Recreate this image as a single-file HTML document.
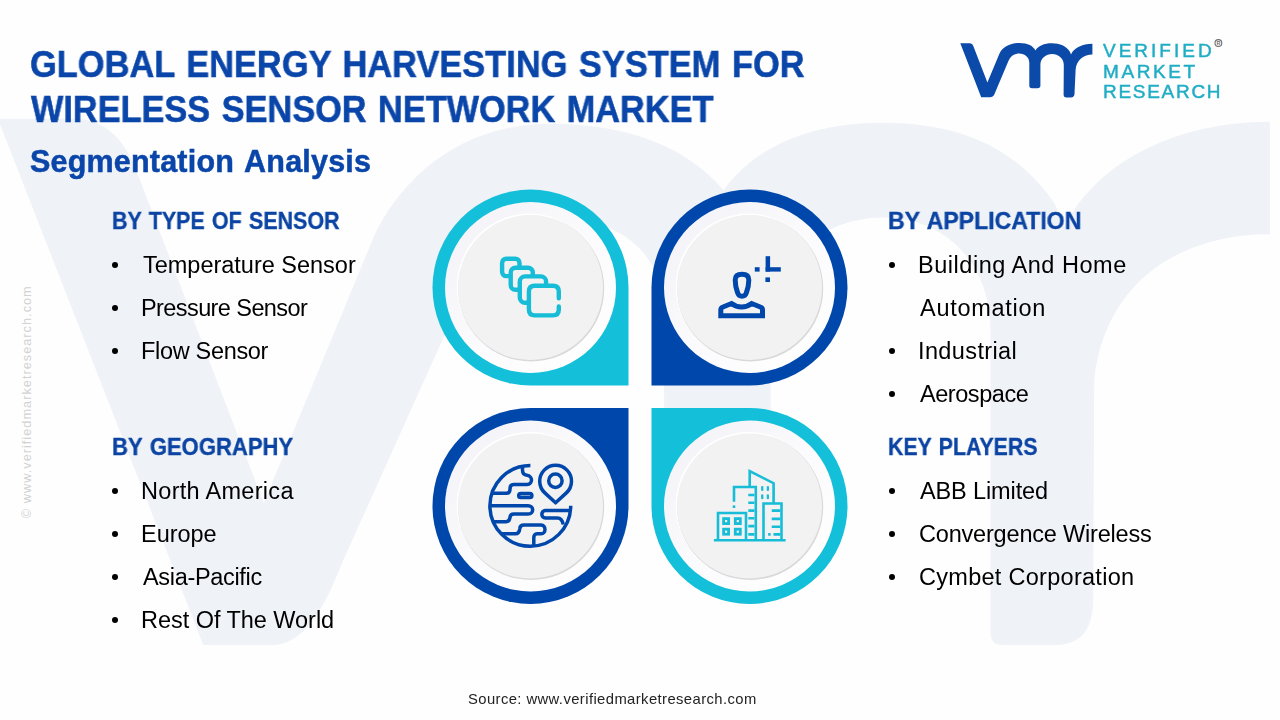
<!DOCTYPE html>
<html><head><meta charset="utf-8">
<style>
html,body{margin:0;padding:0;}
body{width:1280px;height:720px;position:relative;overflow:hidden;background:#fefefe;font-family:"Liberation Sans",sans-serif;}
.t{position:absolute;white-space:nowrap;line-height:1;will-change:transform;}
.b{position:absolute;width:6px;height:6px;border-radius:50%;background:#000;}
svg{position:absolute;left:0;top:0;}
</style></head>
<body>
<svg width="1280" height="720" viewBox="0 0 1280 720">
  <defs>
    <path id="logo" d="M960.3 43.3 L970 43.3 Q972.5 43.5 973.3 46 L987.4 82.4 L999.5 53.5 C1002 47.5 1010 43 1019.5 43 C1028 43 1033 46 1035.5 50.4 C1038 46 1044 43.3 1052 43.3 C1060 43.3 1066 46 1070 52 L1071 54.4 C1074 48 1082 43.8 1092.4 43.8 L1092.4 54.4 C1084 54.4 1076 60 1075.6 70 L1074.5 94 Q1074.2 97.4 1071 97.4 L1066 97.4 Q1063.6 97.4 1063.6 95 L1063.8 65 C1063.8 58 1058 54 1052.2 54 C1046 54 1040.4 58 1040.4 65 L1040.4 85.5 Q1040.4 88.2 1037.5 88.2 L1032 88.2 Q1029.3 88.2 1029.3 85.5 L1029.3 63 C1029.3 57.5 1025 53.6 1019 53.6 C1013 53.6 1010 57 1008 62 L994.5 94 Q993 97.2 990 97.2 L981.2 97.2 Z"/>
    <path id="wm" d="M959.9 43.3 L967.9 43.3 Q972.3 43.3 974.4 48.8 L987.6 82.6 L999.0 55.5 C1001.8 49.5 1008 43.8 1017.5 43.8 C1026 43.8 1032 46.5 1035.5 50.6 C1038.5 46.5 1044 43.7 1052 43.7 C1060 43.7 1066 46.2 1070 52 L1071 54.4 C1074 48.2 1082 43.6 1092.4 43.6 L1092.4 55.1 C1083 55.1 1075.2 60 1074.1 70 L1074 92.3 C1074 95.5 1072.8 97.1 1070 97.1 L1064.5 97.1 Q1063.3 97.1 1063.3 95.8 L1063.3 65 C1063.3 57.5 1058 53.4 1052.2 53.4 C1046 53.4 1040.4 57.5 1040.4 65 L1040.4 85.5 Q1040.4 88.2 1037.5 88.2 L1032 88.2 Q1029.3 88.2 1029.3 85.5 L1029.3 63 C1029.3 57.5 1025 53.6 1019 53.6 C1013 53.6 1010 57 1008 62 L995.9 88.4 C994.6 91.5 992.5 97.1 988.5 97.1 L981.3 97.1 Z"/>
  </defs>
  <!-- watermark -->
  <use href="#wm" xlink:href="#wm" fill="#eff2f7" transform="translate(1.7,118.75) scale(9.6,9.78) translate(-960.3,-43.3)"/>
  <!-- logo -->
  <use href="#logo" xlink:href="#logo" fill="#0b4aa8"/>
  <!-- quadrants -->
  <path d="M628.5 287.5 L628.5 385.5 L530.5 385.5 A98 98 0 1 1 628.5 287.5 Z" fill="#14bfd9"/>
  <path d="M749.5 385.5 L651.5 385.5 L651.5 287.5 A98 98 0 1 1 749.5 385.5 Z" fill="#0047ab"/>
  <path d="M530.5 408 L628.5 408 L628.5 506 A98 98 0 1 1 530.5 408 Z" fill="#0047ab"/>
  <path d="M651.5 506 L651.5 408 L749.5 408 A98 98 0 1 1 651.5 506 Z" fill="#14bfd9"/>
  <defs>
    <linearGradient id="rg" x1="0" y1="0" x2="1" y2="1">
      <stop offset="0" stop-color="#f1f1f7"/><stop offset="0.5" stop-color="#fbfbfd"/><stop offset="1" stop-color="#ffffff"/>
    </linearGradient>
    <filter id="bl" x="-10%" y="-10%" width="120%" height="120%"><feGaussianBlur stdDeviation="0.7"/></filter>
  </defs>

  <circle cx="530.5" cy="287.5" r="85.5" fill="url(#rg)"/>
  <circle cx="529.7" cy="286.6" r="73" fill="#ffffff"/>
  <circle cx="531.2" cy="288.5" r="73" fill="#d9d9d9" filter="url(#bl)"/>
  <circle cx="530.5" cy="287.5" r="72.5" fill="#f2f2f2"/>
  <circle cx="749.5" cy="287.5" r="85.5" fill="url(#rg)"/>
  <circle cx="748.7" cy="286.6" r="73" fill="#ffffff"/>
  <circle cx="750.2" cy="288.5" r="73" fill="#d9d9d9" filter="url(#bl)"/>
  <circle cx="749.5" cy="287.5" r="72.5" fill="#f2f2f2"/>
  <circle cx="530.5" cy="506" r="85.5" fill="url(#rg)"/>
  <circle cx="529.7" cy="505.1" r="73" fill="#ffffff"/>
  <circle cx="531.2" cy="507.0" r="73" fill="#d9d9d9" filter="url(#bl)"/>
  <circle cx="530.5" cy="506" r="72.5" fill="#f2f2f2"/>
  <circle cx="749.5" cy="506" r="85.5" fill="url(#rg)"/>
  <circle cx="748.7" cy="505.1" r="73" fill="#ffffff"/>
  <circle cx="750.2" cy="507.0" r="73" fill="#d9d9d9" filter="url(#bl)"/>
  <circle cx="749.5" cy="506" r="72.5" fill="#f2f2f2"/>
  <!-- icon 1: sensors -->
  <g fill="#f2f2f2" stroke="#17bcd6" stroke-width="4.4" stroke-linecap="round" stroke-linejoin="round">
    <rect x="502.1" y="258.7" width="17.4" height="17.4" rx="4.2"/>
    <rect x="510.7" y="267.7" width="22.1" height="22.1" rx="4.8"/>
    <rect x="519.8" y="276.4" width="26.3" height="26.3" rx="5.3"/>
    <path d="M558.8 298.3 L558.8 291.6 Q558.8 285.8 553 285.8 L534.7 285.8 Q528.9 285.8 528.9 291.6 L528.9 309.6 Q528.9 315.4 534.7 315.4 L553 315.4 Q558.8 315.4 558.8 309.6 L558.8 306.5"/>
  </g>
  <!-- icon 2: person -->
  <g fill="none" stroke="#0047ab" stroke-width="5" stroke-linejoin="miter">
    <path d="M742 274.3 C746.5 274.3 748.8 276.5 748.8 280 C748.8 285 747.5 290 746.3 293 C745.5 295.3 744.2 296.2 742 296.2 C739.8 296.2 738.5 295.3 737.7 293 C736.5 290 735.2 285 735.2 280 C735.2 276.5 737.5 274.3 742 274.3 Z"/>
    <path d="M720.8 315.7 L720.8 310 Q720.8 307.8 723 307 L731.5 303.5 C735 306.2 738 307 741.6 307 C745.2 307 748.2 306.2 751.7 303.5 L760.3 307 Q762.5 307.8 762.5 310 L762.5 315.7 Z"/>
  </g>
  <g fill="#0047ab">
    <rect x="754.8" y="267.2" width="4.8" height="4.4"/>
    <rect x="765.6" y="256.2" width="4.5" height="15.4"/>
    <rect x="765.6" y="267.2" width="15.2" height="4.4"/>
    <rect x="765.4" y="277.4" width="4.6" height="4.6"/>
  </g>
  <!-- icon 3: globe -->
  <g fill="none" stroke="#0047ab" stroke-width="3.5" stroke-linecap="butt" stroke-linejoin="round">
    <path d="M530.4 465.4 A40.4 40.4 0 1 0 570.7 505.8"/>
    <path d="M522.5 465.6 L522.5 470 C522.5 473 524 475 527 475.3 C533 476 533 484.4 527 484.4 L513.5 484.4 C511 484.4 510 486.5 510 489 C510 491.5 509 493.3 506.5 493.3 L491.5 493.3"/>
    <rect x="518.7" y="493.4" width="13.2" height="4.2" rx="2.1"/>
    <path d="M490 505.8 L528 505.8 C534.2 505.8 534.2 514.1 528 514.1 L514 514.1 C511 514.1 510 516 509.8 518 C509.5 520.5 508.5 521.7 506 521.7 L493 521.7"/>
    <path d="M501 533.8 L515.5 533.8 C518.5 533.8 519.5 531 519.8 528.5 C520 526 521.5 525 524 525 L541 525 C546.3 525 546.3 533.8 541 533.8 L537 533.8 C535 533.8 533.8 535.5 533.8 537.5 L533.8 546"/>
    <path d="M570.8 510.6 L545.5 510.6 C540.6 510.6 540.6 518 545.5 518 L557.5 518 C560.5 518 562.3 520 563.2 524.5"/>
    <path d="M555.6 502.8 L544.84 492.9 A15.9 15.9 0 1 1 566.36 492.9 Z"/>
    <circle cx="555.4" cy="480.7" r="6.7"/>
  </g>
  <!-- icon 4: buildings -->
  <g fill="none" stroke="#17bcd6" stroke-width="2.6" stroke-linecap="butt" stroke-linejoin="miter">
    <path d="M713.9 540.3 L785.6 540.3"/>
    <path d="M718 540.3 L718 513 L746 513 L746 540.3"/>
    <rect x="723.6" y="518.6" width="5" height="5" stroke-width="2.8"/>
    <rect x="735.3" y="518.6" width="5" height="5" stroke-width="2.8"/>
    <rect x="723.6" y="529.2" width="5" height="5" stroke-width="2.8"/>
    <rect x="735.3" y="529.2" width="5" height="5" stroke-width="2.8"/>
    <path d="M734 501.7 L734 487 L755.8 487 L755.8 540.3"/>
    <path d="M749.7 487 L749.7 471.2 L773.6 483.2 L773.6 503.5"/>
    <path d="M763.5 540.3 L763.5 503.5 L781.5 503.5 L781.5 540.3"/>
    <path d="M748.3 495 H754.4 M748.3 502.8 H754.4 M748.3 510.6 H754.4 M748.3 518.3 H754.4 M748.3 526.1 H754.4 M748.3 534.4 H754.4"/>
    <path d="M771.7 510.6 H780.2 M771.7 518.9 H780.2 M771.7 526.7 H780.2 M773.5 534.4 H780.2"/>
  </g>
  <g fill="#17bcd6">
    <rect x="732.7" y="505.4" width="2.6" height="2.6"/>
    <rect x="768.1" y="533.1" width="2.6" height="2.6"/>
    <rect x="761.1" y="486" width="2.3" height="5" rx="1.1"/>
    <rect x="766.7" y="486" width="2.3" height="5" rx="1.1"/>
    <rect x="761.1" y="494.3" width="2.3" height="5" rx="1.1"/>
    <rect x="766.7" y="494.3" width="2.3" height="5" rx="1.1"/>
  </g>

  <!-- registered mark -->
  <circle cx="1218.4" cy="43" r="3.4" fill="none" stroke="#6e6e6e" stroke-width="1.1"/>
  <text x="1216.6" y="45.2" font-size="5.5" font-weight="bold" fill="#6e6e6e" font-family="Liberation Sans">R</text>
  <!-- vertical watermark text -->
  <text x="30.7" y="518.2" transform="rotate(-90 30.7 518.2)" font-size="12.8" fill="#d2d2d2" font-family="Liberation Sans" textLength="232" lengthAdjust="spacing">© www.verifiedmarketresearch.com</text>
</svg>
<div class="t" id="t1" style="left:30.4px;top:47.14px;font-size:36.1px;color:#0a46a9;font-weight:bold;transform:scaleX(0.9541);transform-origin:0 0;-webkit-text-stroke:0.5px #0a46a9;word-spacing:2px;">GLOBAL ENERGY HARVESTING SYSTEM FOR</div>
<div class="t" id="t2" style="left:31.4px;top:91.84px;font-size:36.1px;color:#0a46a9;font-weight:bold;transform:scaleX(0.9511);transform-origin:0 0;-webkit-text-stroke:0.5px #0a46a9;word-spacing:2px;">WIRELESS SENSOR NETWORK MARKET</div>
<div class="t" id="sub" style="left:30px;top:146.08px;font-size:30.5px;color:#0a46a9;font-weight:bold;letter-spacing:0.200px;-webkit-text-stroke:0.5px #0a46a9;word-spacing:2.5px;">Segmentation Analysis</div>
<div class="t" id="h1" style="left:111.5px;top:209.21px;font-size:24.2px;color:#0b44a3;font-weight:bold;transform:scaleX(0.8863);transform-origin:0 0;-webkit-text-stroke:0.35px #0b44a3;word-spacing:1.5px;">BY TYPE OF SENSOR</div>
<div class="t" id="i1" style="left:142.8px;top:253.81px;font-size:23.5px;color:#000;letter-spacing:-0.012px;">Temperature Sensor</div>
<div class="t" id="i2" style="left:140.8px;top:296.81px;font-size:23.5px;color:#000;letter-spacing:-0.586px;">Pressure Sensor</div>
<div class="t" id="i3" style="left:140.8px;top:339.81px;font-size:23.5px;color:#000;letter-spacing:-0.320px;">Flow Sensor</div>
<div class="t" id="h2" style="left:111.5px;top:434.91px;font-size:24.2px;color:#0b44a3;font-weight:bold;transform:scaleX(0.9120);transform-origin:0 0;-webkit-text-stroke:0.35px #0b44a3;word-spacing:1.5px;">BY GEOGRAPHY</div>
<div class="t" id="i4" style="left:140.8px;top:479.71px;font-size:23.5px;color:#000;letter-spacing:0.300px;">North America</div>
<div class="t" id="i5" style="left:140.8px;top:522.71px;font-size:23.5px;color:#000;letter-spacing:-0.040px;">Europe</div>
<div class="t" id="i6" style="left:142.8px;top:565.71px;font-size:23.5px;color:#000;letter-spacing:-0.327px;">Asia-Pacific</div>
<div class="t" id="i7" style="left:140.8px;top:608.71px;font-size:23.5px;color:#000;letter-spacing:-0.037px;">Rest Of The World</div>
<div class="t" id="h3" style="left:888.0px;top:209.21px;font-size:24.2px;color:#0b44a3;font-weight:bold;transform:scaleX(0.9540);transform-origin:0 0;-webkit-text-stroke:0.35px #0b44a3;word-spacing:1.5px;">BY APPLICATION</div>
<div class="t" id="i8" style="left:917.6px;top:253.81px;font-size:23.5px;color:#000;letter-spacing:0.525px;">Building And Home</div>
<div class="t" id="i9" style="left:919.6px;top:296.81px;font-size:23.5px;color:#000;letter-spacing:0.711px;">Automation</div>
<div class="t" id="i10" style="left:917.6px;top:339.81px;font-size:23.5px;color:#000;letter-spacing:0.378px;">Industrial</div>
<div class="t" id="i11" style="left:919.6px;top:382.81px;font-size:23.5px;color:#000;letter-spacing:-0.450px;">Aerospace</div>
<div class="t" id="h4" style="left:888.0px;top:434.91px;font-size:24.2px;color:#0b44a3;font-weight:bold;transform:scaleX(0.8815);transform-origin:0 0;-webkit-text-stroke:0.35px #0b44a3;word-spacing:1.5px;">KEY PLAYERS</div>
<div class="t" id="i12" style="left:919.6px;top:479.71px;font-size:23.5px;color:#000;letter-spacing:-0.120px;">ABB Limited</div>
<div class="t" id="i13" style="left:918.6px;top:522.71px;font-size:23.5px;color:#000;letter-spacing:-0.189px;">Convergence Wireless</div>
<div class="t" id="i14" style="left:918.6px;top:565.71px;font-size:23.5px;color:#000;letter-spacing:0.282px;">Cymbet Corporation</div>
<div class="t" id="src" style="left:467.8px;top:692.47px;font-size:14.8px;color:#222;letter-spacing:0.411px;">Source: www.verifiedmarketresearch.com</div>
<div class="t" id="l1" style="left:1103.4px;top:41.12px;font-size:19px;color:#1fadc5;letter-spacing:3.000px;-webkit-text-stroke:0.45px #1fadc5;">VERIFIED</div>
<div class="t" id="l2" style="left:1103.0px;top:61.62px;font-size:19px;color:#1fadc5;letter-spacing:2.600px;-webkit-text-stroke:0.45px #1fadc5;">MARKET</div>
<div class="t" id="l3" style="left:1103.0px;top:81.72px;font-size:19px;color:#1fadc5;letter-spacing:1.714px;-webkit-text-stroke:0.45px #1fadc5;">RESEARCH</div>
<div class="b" style="left:112.1px;top:261.8px"></div>
<div class="b" style="left:112.1px;top:304.8px"></div>
<div class="b" style="left:112.1px;top:347.8px"></div>
<div class="b" style="left:112.1px;top:487.7px"></div>
<div class="b" style="left:112.1px;top:530.7px"></div>
<div class="b" style="left:112.1px;top:573.7px"></div>
<div class="b" style="left:112.1px;top:616.7px"></div>
<div class="b" style="left:889px;top:261.8px"></div>
<div class="b" style="left:889px;top:347.8px"></div>
<div class="b" style="left:889px;top:390.8px"></div>
<div class="b" style="left:889px;top:487.7px"></div>
<div class="b" style="left:889px;top:530.7px"></div>
<div class="b" style="left:889px;top:573.7px"></div>
</body></html>
